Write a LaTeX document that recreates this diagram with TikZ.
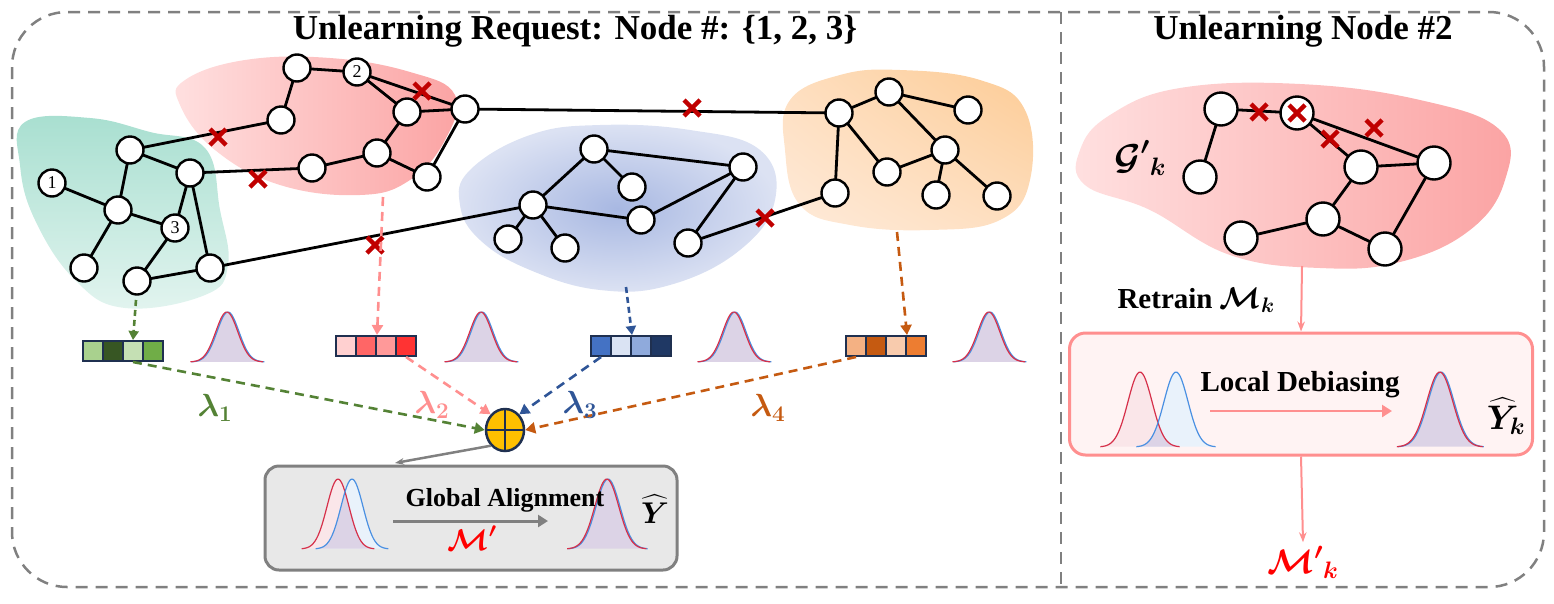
\documentclass[tikz,border=0pt]{standalone}
\usepackage{fix-cm}
\usepackage{fontspec}
\usepackage{amsmath,bm}
\setmainfont{Liberation Serif}
\DeclareFontShape{OML}{cmm}{b}{it}{<->s*cmmib10}{}
\DeclareFontShape{OMS}{cmsy}{b}{n}{<->s*cmbsy10}{}
\usetikzlibrary{arrows.meta,shapes.geometric,shadings}
\definecolor{frame}{HTML}{808080}
\definecolor{xred}{HTML}{C00000}
\definecolor{navy}{HTML}{1F3050}
\definecolor{gold}{HTML}{FFC000}
\definecolor{gA}{HTML}{A9D18E}\definecolor{gB}{HTML}{375623}\definecolor{gC}{HTML}{C5E0B4}\definecolor{gD}{HTML}{70AD47}
\definecolor{pA}{HTML}{FFD0D0}\definecolor{pB}{HTML}{FF6666}\definecolor{pC}{HTML}{FF9999}\definecolor{pD}{HTML}{FF3333}
\definecolor{bA}{HTML}{4472C4}\definecolor{bB}{HTML}{DAE3F3}\definecolor{bC}{HTML}{8FAADC}\definecolor{bD}{HTML}{1F3864}
\definecolor{oA}{HTML}{F4B183}\definecolor{oB}{HTML}{C55A11}\definecolor{oC}{HTML}{F8CBAD}\definecolor{oD}{HTML}{ED7D31}
\definecolor{cgreen}{HTML}{548235}\definecolor{cpink}{HTML}{FF8F8F}\definecolor{cblue}{HTML}{2F5597}\definecolor{corange}{HTML}{C55A11}
\definecolor{gred}{HTML}{D6304A}\definecolor{gblue}{HTML}{4A90E2}\definecolor{lav}{HTML}{DCD3E6}
\definecolor{teal1}{HTML}{A8DFD0}\definecolor{teal2}{HTML}{E2F4EF}
\definecolor{bluei}{HTML}{A8B8E2}\definecolor{blueo}{HTML}{DCE2F3}
\definecolor{or1}{HTML}{FDCB94}\definecolor{or2}{HTML}{FEEBDB}
\definecolor{pk1}{HTML}{FFE0E0}\definecolor{pk2}{HTML}{FBA3A3}
\pgfdeclarelayer{blob}\pgfdeclarelayer{edge}
\pgfsetlayers{blob,edge,main}
\tikzset{
 v/.style={circle,draw,fill=white,line width=2.4pt,minimum size=27pt,inner sep=0pt,font=\fontsize{18}{18}\selectfont},
 rv/.style={v,minimum size=33pt},
 e/.style={line width=2.8pt},
 cell/.style={draw=navy,line width=2pt,minimum width=20pt,minimum height=20pt,inner sep=0pt},
 dsh/.style={line width=2.6pt,dash pattern=on 9pt off 6pt,-{Triangle[length=10pt,width=11pt]}},
 lam/.style={font=\fontsize{32}{32}\selectfont},
 lbl/.style={font=\fontsize{29}{32}\selectfont\bfseries},
}
\newcommand{\xmark}[2]{\draw[xred,line width=4.5pt] (#1-8,#2-8)--(#1+8,#2+8) (#1-8,#2+8)--(#1+8,#2-8);}
\newcommand{\gfill}[5]{\fill[#5] plot[domain=-3.3:3.3,samples=50,smooth] ({#1+\x*#4},{#2-#3*exp(-\x*\x/2)}) -- cycle;}
\newcommand{\gline}[5]{\draw[#5,line width=1.2pt] plot[domain=-3.3:3.3,samples=50,smooth] ({#1+\x*#4},{#2-#3*exp(-\x*\x/2)});}
\newcommand{\gpair}[4]{\gfill{#1}{#2}{#3}{#4}{lav}\gline{#1}{#2}{#3}{#4}{gblue}\gline{#1-1.2}{#2}{#3}{#4}{gred}}
\newcommand{\gsplit}[5]{%
 \gfill{#1}{#3}{#4}{#5}{gred!12}\gfill{#2}{#3}{#4}{#5}{gblue!12}
 \begin{scope}\clip plot[domain=-3.3:3.3,samples=50,smooth] ({#1+\x*#5},{#3-#4*exp(-\x*\x/2)}) -- cycle;
 \gfill{#2}{#3}{#4}{#5}{lav}\end{scope}
 \gline{#1}{#3}{#4}{#5}{gred}\gline{#2}{#3}{#4}{#5}{gblue}}
\begin{document}
\begin{tikzpicture}[x=1pt,y=-1pt]
\useasboundingbox (0,0) rectangle (1554,603);
\draw[frame,line width=2.5pt,dash pattern=on 12pt off 8pt,rounded corners=55pt] (12,12) rectangle (1544,587);
\draw[frame,line width=2.5pt,dash pattern=on 12pt off 8pt] (1061,12) -- (1061,587);
\node[font=\fontsize{35}{38}\selectfont\bfseries] (t1) at (575,31) {Unlearning Request: Node \#: \{1, 2, 3\}};
\node[font=\fontsize{35}{38}\selectfont\bfseries] (t2) at (1303,31) {Unlearning Node \#2};
\begin{pgfonlayer}{blob}
\shade[top color=teal1,bottom color=teal2] plot[smooth cycle,tension=0.7] coordinates {(25,122)(90,118)(150,132)(205,148)(220,210)(228,265)(205,295)(125,308)(75,280)(35,220)(20,165)};
\shade[left color=pk1,right color=pk2] plot[smooth cycle,tension=0.7] coordinates {(185,80)(245,60)(330,58)(410,72)(455,95)(445,140)(410,180)(360,195)(280,185)(215,150)(180,105)};
\shade[inner color=bluei,outer color=blueo] plot[smooth cycle,tension=0.7] coordinates {(470,170)(530,135)(600,125)(690,130)(760,150)(775,200)(740,250)(670,285)(600,290)(530,270)(480,240)(460,205)};
\shade[lower left=or2,upper right=or1,upper left=or2!60!or1,lower right=or2!60!or1] plot[smooth cycle,tension=0.7] coordinates {(790,100)(840,75)(900,70)(980,80)(1025,110)(1030,180)(1000,220)(930,230)(850,225)(800,205)(785,150)};
\shade[left color=pk1,right color=pk2] plot[smooth cycle,tension=0.7] coordinates {(1080,150)(1110,115)(1180,88)(1300,84)(1420,100)(1500,130)(1505,180)(1470,230)(1400,262)(1320,268)(1230,255)(1150,210)(1085,185)};
\end{pgfonlayer}
\node[v] (a) at (130,150) {}; \node[v] (b) at (190,173) {}; \node[v] (c) at (52,183) {1};
\node[v] (d) at (118,210) {}; \node[v] (ee) at (175,228) {3}; \node[v] (f) at (84,268) {};
\node[v] (g) at (137,281) {}; \node[v] (h) at (210,268) {};
\node[v] (p1) at (297,68) {}; \node[v] (p2) at (357,72) {2}; \node[v] (p3) at (281,120) {};
\node[v] (p4) at (407,112) {}; \node[v] (p5) at (465,109) {}; \node[v] (p6) at (377,153) {};
\node[v] (p7) at (312,168) {}; \node[v] (p8) at (427,177) {};
\node[v] (b1) at (533,205) {}; \node[v] (b2) at (594,149) {}; \node[v] (b3) at (632,187) {};
\node[v] (b4) at (743,167) {}; \node[v] (b5) at (641,220) {}; \node[v] (b6) at (508,239) {};
\node[v] (b7) at (565,248) {}; \node[v] (b8) at (688,243) {};
\node[v] (o1) at (839,113) {}; \node[v] (o2) at (889,92) {}; \node[v] (o3) at (968,110) {};
\node[v] (o5) at (945,150) {}; \node[v] (o6) at (887,172) {}; \node[v] (o7) at (936,195) {};
\node[v] (o8) at (997,196) {}; \node[v] (o4) at (835,193) {};
\node[rv] (r1) at (1221,109) {}; \node[rv] (r2) at (1297,113) {}; \node[rv] (r3) at (1200,177) {};
\node[rv] (r4) at (1361,167) {}; \node[rv] (r5) at (1434,163) {}; \node[rv] (r6) at (1323,219) {};
\node[rv] (r7) at (1241,238) {}; \node[rv] (r8) at (1385,249) {};
\begin{pgfonlayer}{edge}
\foreach \s/\t in {a/b,a/d,c/d,d/ee,d/f,b/ee,b/h,ee/g,g/h,p1/p2,p1/p3,p2/p4,p2/p5,p4/p5,p4/p6,p6/p7,p6/p8,p5/p8,a/p3,b/p7,p5/o1,h/b1,b1/b2,b2/b3,b2/b4,b1/b5,b5/b4,b4/b8,b1/b6,b1/b7,b8/o4,o1/o2,o2/o3,o2/o5,o1/o6,o6/o5,o5/o7,o5/o8,o1/o4,r1/r2,r1/r3,r2/r4,r2/r5,r4/r5,r4/r6,r6/r7,r6/r8,r5/r8}
 \draw[e] (\s.center) -- (\t.center);
\end{pgfonlayer}
\xmark{422}{91}\xmark{218}{137}\xmark{258}{179}\xmark{692}{108}\xmark{375}{245}\xmark{765}{218}
\xmark{1259}{112}\xmark{1297}{113}\xmark{1330}{139}\xmark{1374}{128}
\node[font=\fontsize{36}{36}\selectfont] (gk) at (1140,158) {$\bm{\mathcal{G}'{}_{k}}$};
\foreach \x/\c [count=\i] in {0/gA,1/gB,2/gC,3/gD} \node[cell,fill=\c] (gv\i) at (93+\x*20,351) {};
\foreach \x/\c [count=\i] in {0/pA,1/pB,2/pC,3/pD} \node[cell,fill=\c] (pv\i) at (346+\x*20,346) {};
\foreach \x/\c [count=\i] in {0/bA,1/bB,2/bC,3/bD} \node[cell,fill=\c] (bv\i) at (601+\x*20,346) {};
\foreach \x/\c [count=\i] in {0/oA,1/oB,2/oC,3/oD} \node[cell,fill=\c] (ov\i) at (856+\x*20,346) {};
\gpair{228}{362}{50}{11}\gpair{482}{362}{50}{11}\gpair{735}{362}{50}{11}\gpair{990}{362}{50}{11}
\coordinate (gs) at (136,300); \coordinate (ps) at (383,197); \coordinate (bs) at (626,287); \coordinate (os) at (897,232);
\draw[dsh,cgreen,dash pattern=on 6pt off 4pt,-{Triangle[length=9pt,width=10pt]}] (gs) -- (gv3.north);
\draw[dsh,cpink] (ps) -- (pv2.north east);
\draw[dsh,cblue,dash pattern=on 6pt off 4pt,-{Triangle[length=9pt,width=10pt]}] (bs) -- (bv2.north east);
\draw[dsh,corange] (os) -- (ov3.north east);
\node[ellipse,draw=navy,fill=gold,line width=2.5pt,minimum width=38pt,minimum height=42pt,inner sep=0pt] (sum) at (505,430) {};
\draw[navy,line width=2.5pt] (sum.north)--(sum.south) (sum.west)--(sum.east);
\draw[dsh,cgreen] (gv3.south) -- (sum.west);
\draw[dsh,cpink] (pv4.south) -- (sum.north west);
\draw[dsh,cblue] (bv1.south) -- (sum.north east);
\draw[dsh,corange] (ov1.south) -- (sum.east);
\node[lam,cgreen] (l1) at (215,408) {$\bm{\lambda_1}$};
\node[lam,cpink] (l2) at (432,405) {$\bm{\lambda_2}$};
\node[lam,cblue] (l3) at (580,405) {$\bm{\lambda_3}$};
\node[lam,corange] (l4) at (768,408) {$\bm{\lambda_4}$};
\node[draw=frame,line width=3pt,fill=black!9,rounded corners=14pt,minimum width=412pt,minimum height=104pt] (gbox) at (471,518) {};
\draw[frame,line width=2.5pt,-{Stealth[length=9pt]}] (sum.south west) -- (395,463);
\gsplit{338}{352}{549}{70}{11}
\gpair{608}{549}{70}{12}
\node[font=\fontsize{26}{30}\selectfont\bfseries] (ga) at (505,500) {Global Alignment};
\draw[frame,line width=3pt,-{Triangle[length=10pt,width=12pt]}] (393,521) -- (548,521);
\node[font=\fontsize{30}{30}\selectfont,red] (mp) at (472,538) {$\bm{\mathcal{M}'}$};
\node[font=\fontsize{30}{30}\selectfont] (yh) at (655,509) {$\bm{\widehat{Y}}$};
\node[lbl,anchor=west] (rt) at (1114,300) {Retrain \fontsize{30}{30}\selectfont$\bm{\mathcal{M}_k}$};
\node[draw=cpink,line width=3pt,fill=pk1!40,rounded corners=16pt,minimum width=463pt,minimum height=122pt] (lbox) at (1301,394) {};
\coordinate (bb) at (1302,266);
\draw[cpink,line width=2pt,-{Stealth[length=10pt]}] (bb) -- (lbox.north);
\gsplit{1140}{1176}{447}{75}{12}
\gpair{1441}{447}{75}{13}
\node[lbl] (ld) at (1300,385) {Local Debiasing};
\draw[cpink,line width=2.5pt,-{Triangle[length=10pt,width=12pt]}] (1210,411) -- (1392,411);
\node[font=\fontsize{34}{34}\selectfont] (yk) at (1506,416) {$\bm{\widehat{Y}_k}$};
\node[font=\fontsize{34}{34}\selectfont,red] (mk) at (1303,562) {$\bm{\mathcal{M}'{}_k}$};
\draw[cpink,line width=2pt,-{Stealth[length=10pt]}] (lbox.south) -- (mk.north);
\end{tikzpicture}
\end{document}
